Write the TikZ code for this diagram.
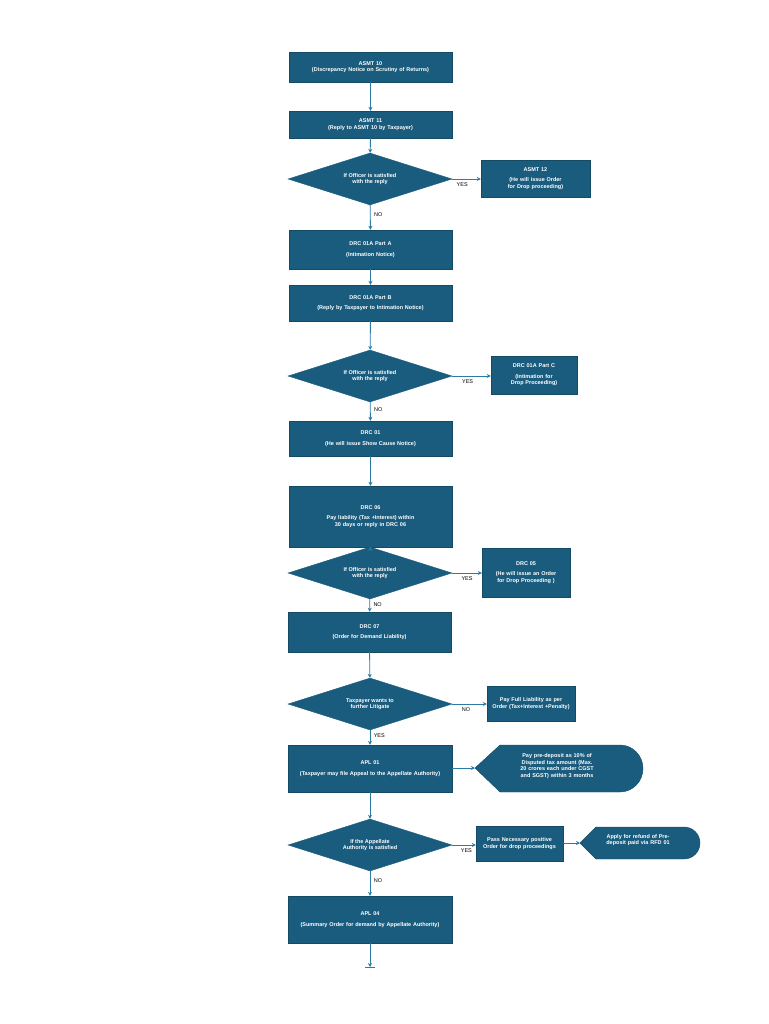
\documentclass[tikz,border=0pt]{standalone}
\usepackage{fontspec}
\setmainfont{Liberation Sans}
\usetikzlibrary{shapes.geometric,arrows.meta}
\definecolor{boxc}{HTML}{1A5C7E}
\definecolor{linec}{HTML}{2B7BA6}
\tikzset{
 bx/.style={draw=boxc!80!black,fill=boxc,text=white,font=\bfseries\fontsize{5.5}{6.6}\selectfont,align=center,inner sep=1pt},
 dm/.style={diamond,draw=boxc,fill=boxc,text=white,font=\bfseries\fontsize{5.5}{6.6}\selectfont,align=center,inner sep=0pt,aspect=3.2},
 txt/.style={text=white,font=\bfseries\fontsize{5.5}{6.6}\selectfont,align=center},
 lbl/.style={font=\fontsize{5.5}{6.6}\selectfont,text=black},
 ar/.style={draw=linec,line width=0.9pt,-{Stealth[length=4pt,width=4pt]}},
}
\newcommand{\rbox}[7]{% name x1 y1 x2 y2 text
 \node[bx,minimum width=#4-#2,minimum height=#5-#3,text width=#4-#2-8] (#1) at ({(#2+#4)/2},{(#3+#5)/2}) {#6};}
\begin{document}
\begin{tikzpicture}[x=1pt,y=-1pt]
\useasboundingbox (0,0) rectangle (768,1024);
\newcommand{\B}[6]{\node[bx,minimum width=#4pt-#2pt,minimum height=#5pt-#3pt,text width=#4pt-#2pt-8pt] (#1) at ({(#2+#4)/2},{(#3+#5)/2}) {#6};}
\newcommand{\D}[3]{\node[dm,minimum width=164pt,minimum height=52pt] (#1) at (370,#2) {#3};}
\B{a10}{289}{52}{452}{82}{ASMT 10\\(Discrepancy Notice on Scrutiny of Returns)}
\B{a11}{289}{111}{452}{138}{ASMT 11\\(Reply to ASMT 10 by Taxpayer)}
\D{d1}{179}{If Officer is satisfied\\with the reply}
\B{a12}{481}{160}{590}{197}{ASMT 12\\[4pt](He will issue Order for Drop proceeding)}
\B{pa}{289}{230}{452}{269}{DRC 01A Part A\\[4pt](Intimation Notice)\\[5pt]}
\B{pb}{289}{285}{452}{321}{DRC 01A Part B\\[4pt](Reply by Taxpayer to Intimation Notice)\\[3pt]}
\D{d2}{376}{If Officer is satisfied\\with the reply}
\B{pc}{491}{356}{577}{394}{DRC 01A Part C\\[4pt](Intimation for Drop Proceeding)}
\B{r1}{289}{421}{452}{456}{DRC 01\\[4pt](He will issue Show Cause Notice)\\[3pt]}
\B{r6}{289}{486}{452}{547}{DRC 06\\[4pt]Pay liability (Tax +Interest) within 30 days or reply in DRC 06\\[12pt]}
\D{d3}{573}{If Officer is satisfied\\with the reply}
\B{r5}{482}{548}{570}{597}{DRC 05\\[4pt](He will issue an Order for Drop Proceeding )\\[6pt]}
\B{r7}{288}{612}{451}{652}{DRC 07\\[4pt](Order for Demand Liability)\\[8pt]}
\D{d4}{704}{Taxpayer wants to\\further Litigate}
\B{pf}{487}{686}{575}{721}{Pay Full Liability as per Order (Tax+Interest +Penalty)}
\B{ap1}{288}{745}{452}{792}{APL 01\\[4pt](Taxpayer may file Appeal to the Appellate Authority)\\[8pt]}
\D{d5}{845}{If the Appellate\\Authority is satisfied}
\B{ps}{476}{826}{563}{861}{Pass Necessary positive Order for drop proceedings}
\B{ap4}{288}{896}{452}{943}{APL 04\\[4pt](Summary Order for demand by Appellate Authority)\\[8pt]}
% display shapes
\draw[boxc!80!black,fill=boxc] (475,768) -- (500,745) -- (620,745) arc[start angle=-90,end angle=90,x radius=23,y radius=23.5] -- (500,792) -- cycle;
\node[txt,text width=100pt] (pd) at (557,766) {Pay pre-deposit as 10\% of Disputed tax amount (Max. 20 crores each under CGST and SGST) within 3 months};
\coordinate (pdl) at (475,768);
\draw[boxc!80!black,fill=boxc] (580,843) -- (596,827) -- (684,827) arc[start angle=-90,end angle=90,x radius=16,y radius=16] -- (596,859) -- cycle;
\node[txt,text width=90pt] (rf) at (638,840) {Apply for refund of Pre-deposit paid via RFD 01};
\coordinate (rfl) at (580,843);
% connectors
\draw[ar] (a10) -- (a11);
\draw[ar] (a11) -- (d1);
\draw[ar] (d1.east) -- node[lbl,below,pos=0.35]{YES} (d1.east -| a12.west);
\draw[ar] (d1) -- node[lbl,right,pos=0.4]{NO} (pa);
\draw[ar] (pa) -- (pb);
\draw[ar] (pb) -- (d2);
\draw[ar] (d2.east) -- node[lbl,below,pos=0.4]{YES} (d2.east -| pc.west);
\draw[ar] (d2) -- node[lbl,right,pos=0.4]{NO} (r1);
\draw[ar] (r1) -- (r6);
\draw[ar] (r6) -- (d3);
\draw[ar] (d3.east) -- node[lbl,below,pos=0.5]{YES} (d3.east -| r5.west);
\draw[ar] (d3) -- node[lbl,right,pos=0.4]{NO} (r7);
\draw[ar] (r7) -- (d4);
\draw[ar] (d4.east) -- node[lbl,below,pos=0.4]{NO} (d4.east -| pf.west);
\draw[ar] (d4) -- node[lbl,right,pos=0.4]{YES} (ap1);
\draw[ar] (ap1.east |- pdl) -- (pdl);
\draw[ar] (ap1) -- (d5);
\draw[ar] (d5.east) -- node[lbl,below,pos=0.6]{YES} (d5.east -| ps.west);
\draw[ar] (ps.east |- rfl) -- (rfl);
\draw[ar] (d5) -- node[lbl,right,pos=0.4]{NO} (ap4);
\coordinate (endp) at (370,967);
\draw[ar] (ap4) -- (endp);
\draw[linec,line width=0.9pt] (365,967) -- (375,967);
\end{tikzpicture}
\end{document}
